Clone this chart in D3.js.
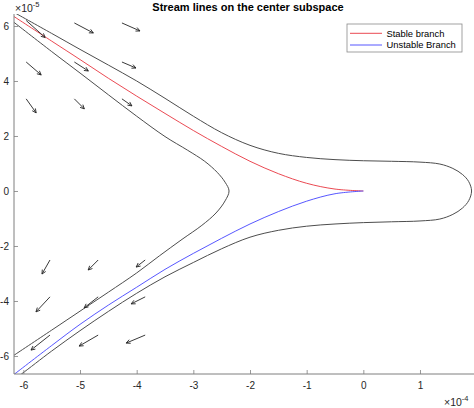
<!DOCTYPE html>
<html>
<head>
<meta charset="utf-8">
<script src="https://cdn.jsdelivr.net/npm/d3@7"></script>
<style>
  html, body { margin: 0; padding: 0; background: #fff; }
  svg { display: block; }
  text { font-family: "Liberation Sans", Arial, Helvetica, sans-serif; }
</style>
</head>
<body>
<svg id="chart" width="474" height="408"></svg>
<script>
// ---- Data (x in units of 1e-4, y in units of 1e-5) ----
const xTicks = [-6, -5, -4, -3, -2, -1, 0, 1];
const yTicks = [-6, -4, -2, 0, 2, 4, 6];
const legendLabels = ["Stable branch", "Unstable Branch"];
const titleText = "Stream lines on the center subspace";

const stableX = [-6.17, -5.5, -5, -4.5, -4, -3.5, -3, -2.5, -2, -1.5, -1, -0.5, 0];
const stableY = [6.35, 5.45, 4.78, 4.1, 3.45, 2.82, 2.2, 1.62, 1.08, 0.63, 0.28, 0.07, 0];

const unstableX = [-6.17, -5.5, -5, -4.5, -4, -3.5, -3, -2.5, -2, -1.5, -1, -0.5, 0];
const unstableY = [-6.68, -5.62, -4.85, -4.15, -3.5, -2.85, -2.27, -1.72, -1.2, -0.75, -0.37, -0.1, 0];

// outer stream line (hairpin around the right)
const outerX = [-6.17, -5.5, -5, -4.5, -4, -3.5, -3, -2.5, -2, -1.5, -1, -0.5, 0, 0.5, 1, 1.35, 1.58, 1.75, 1.86, 1.91,
                1.86, 1.75, 1.58, 1.35, 1, 0.5, 0, -0.5, -1, -1.5, -2, -2.5, -3, -3.5, -4, -4.5, -5, -5.5, -6.03, -6.17];
const outerY = [6.5, 5.73, 5.15, 4.58, 4.0, 3.37, 2.72, 2.12, 1.66, 1.37, 1.22, 1.14, 1.1, 1.08, 1.05, 0.98, 0.82, 0.6, 0.34, 0,
                -0.35, -0.62, -0.85, -1.02, -1.09, -1.12, -1.15, -1.2, -1.28, -1.43, -1.68, -2.1, -2.6, -3.12, -3.72, -4.38, -5.08, -5.82, -6.65, -6.85];

// inner stream line (C shape left of the cusp)
const innerX = [-6.17, -5.5, -5, -4.5, -4, -3.5, -3.1, -2.8, -2.58, -2.44, -2.37,
                -2.44, -2.6, -2.85, -3.2, -3.6, -4, -4.5, -5, -5.5, -6.17];
const innerY = [6.14, 5.07, 4.29, 3.5, 2.72, 1.98, 1.48, 1.08, 0.68, 0.32, 0,
                -0.36, -0.8, -1.25, -1.76, -2.36, -2.98, -3.68, -4.37, -5.06, -5.98];

// quiver arrows: base position and vector components
const arrowX  = [-5.95, -5.1, -4.26, -5.95, -5.1, -4.26, -5.95, -5.1, -4.26,
                 -5.53, -4.68, -3.85, -5.53, -4.68, -3.85, -5.53, -4.68, -3.85];
const arrowY  = [6.2, 6.11, 6.11, 4.69, 4.69, 4.69, 3.35, 3.35, 3.35,
                 -2.51, -2.51, -2.51, -3.85, -3.85, -3.85, -5.24, -5.24, -5.24];
const arrowU  = [0.335, 0.335, 0.318, 0.265, 0.247, 0.247, 0.176, 0.176, 0.176,
                 -0.141, -0.176, -0.159, -0.247, -0.247, -0.247, -0.335, -0.335, -0.335];
const arrowV  = [-0.62, -0.364, -0.29, -0.47, -0.327, -0.218, -0.51, -0.364, -0.255,
                 -0.51, -0.364, -0.255, -0.545, -0.4, -0.255, -0.545, -0.4, -0.29];

// ---- Drawing ----
const svg = d3.select("#chart");
const W = 474, H = 408;
const padL = 14, padR = 474, padT = 14, padB = 374;

const x = d3.scaleLinear().domain([-6.165, 1.953]).range([padL, padR]);
const y = d3.scaleLinear().domain([-6.655, 6.436]).range([padB, padT]);

svg.append("rect").attr("width", W).attr("height", H).attr("fill", "#fff");

svg.append("defs").append("clipPath").attr("id", "plotclip")
  .append("rect").attr("x", padL).attr("y", padT).attr("width", padR - padL).attr("height", padB - padT);

const plot = svg.append("g").attr("clip-path", "url(#plotclip)");

const line = d3.line().x(d => x(d[0])).y(d => y(d[1])).curve(d3.curveCatmullRom.alpha(0.5));
const zip = (a, b) => a.map((v, i) => [v, b[i]]);

plot.append("path").attr("d", line(zip(outerX, outerY)))
  .attr("fill", "none").attr("stroke", "#4d4d4d").attr("stroke-width", 1);
plot.append("path").attr("d", line(zip(innerX, innerY)))
  .attr("fill", "none").attr("stroke", "#4d4d4d").attr("stroke-width", 1);
plot.append("path").attr("d", line(zip(stableX, stableY)))
  .attr("fill", "none").attr("stroke", "#e8353f").attr("stroke-width", 0.9);
plot.append("path").attr("d", line(zip(unstableX, unstableY)))
  .attr("fill", "none").attr("stroke", "#4444ff").attr("stroke-width", 0.9);

// arrows
const arrows = plot.append("g").attr("stroke", "#222").attr("stroke-width", 0.9).attr("fill", "none");
arrowX.forEach((ax, i) => {
  const x0 = x(ax), y0 = y(arrowY[i]);
  const x1 = x(ax + arrowU[i]), y1 = y(arrowY[i] + arrowV[i]);
  const ang = Math.atan2(y1 - y0, x1 - x0);
  const hl = 4.5, ha = 0.45;
  arrows.append("line").attr("x1", x0).attr("y1", y0).attr("x2", x1).attr("y2", y1);
  arrows.append("polyline").attr("points", [
    [x1 - hl * Math.cos(ang - ha), y1 - hl * Math.sin(ang - ha)],
    [x1, y1],
    [x1 - hl * Math.cos(ang + ha), y1 - hl * Math.sin(ang + ha)]
  ].map(p => p.join(",")).join(" "));
});

// axes
const axisColor = "#7f7f7f";
const gx = svg.append("g").attr("transform", `translate(0,${padB})`)
  .call(d3.axisBottom(x).tickValues(xTicks).tickSize(-4).tickSizeOuter(0).tickPadding(8).tickFormat(d3.format("d")));
const gy = svg.append("g").attr("transform", `translate(${padL},0)`)
  .call(d3.axisLeft(y).tickValues(yTicks).tickSize(-4).tickSizeOuter(0).tickPadding(5).tickFormat(d3.format("d")));
[gx, gy].forEach(g => {
  g.select(".domain").remove();
  g.selectAll(".tick line").attr("stroke", axisColor).attr("stroke-width", 0.8);
  g.selectAll(".tick text").attr("fill", "#262626").attr("font-size", "10px")
    .style("font-family", "'Liberation Sans', Arial, sans-serif");
});
gx.selectAll(".tick text").text(d => d < 0 ? "-" + Math.abs(d) : d);
gy.selectAll(".tick text").text(d => d < 0 ? "-" + Math.abs(d) : d);

svg.append("line").attr("x1", padL).attr("x2", padR).attr("y1", padB).attr("y2", padB)
  .attr("stroke", axisColor).attr("stroke-width", 1);
svg.append("line").attr("x1", padL).attr("x2", padL).attr("y1", padT).attr("y2", padB)
  .attr("stroke", axisColor).attr("stroke-width", 1);

// exponent labels
const expY = svg.append("text").attr("x", 15).attr("y", 12).attr("font-size", "10.5px").attr("fill", "#262626");
expY.append("tspan").text("\u00d710");
expY.append("tspan").attr("font-size", "7.5px").attr("dy", -5).text("-5");

const expX = svg.append("text").attr("x", 444).attr("y", 406).attr("font-size", "10.5px").attr("fill", "#262626");
expX.append("tspan").text("\u00d710");
expX.append("tspan").attr("font-size", "7.5px").attr("dy", -5).text("-4");

// title
svg.append("text").attr("x", 248).attr("y", 11).attr("text-anchor", "middle")
  .attr("font-size", "11px").attr("font-weight", "bold").attr("fill", "#000").text(titleText);

// legend
const lg = svg.append("g");
lg.append("rect").attr("x", 347).attr("y", 24).attr("width", 115).attr("height", 28)
  .attr("fill", "#fff").attr("stroke", "#8a8a8a").attr("stroke-width", 0.8);
const legendColors = ["#e8353f", "#4444ff"];
legendLabels.forEach((lab, i) => {
  const yy = 33.3 + i * 11.7;
  lg.append("line").attr("x1", 350).attr("x2", 382).attr("y1", yy).attr("y2", yy)
    .attr("stroke", legendColors[i]).attr("stroke-width", 0.9);
  lg.append("text").attr("x", 386.5).attr("y", yy + 3.3).attr("font-size", "9.4px").attr("fill", "#000").text(lab);
});
</script>
</body>
</html>
